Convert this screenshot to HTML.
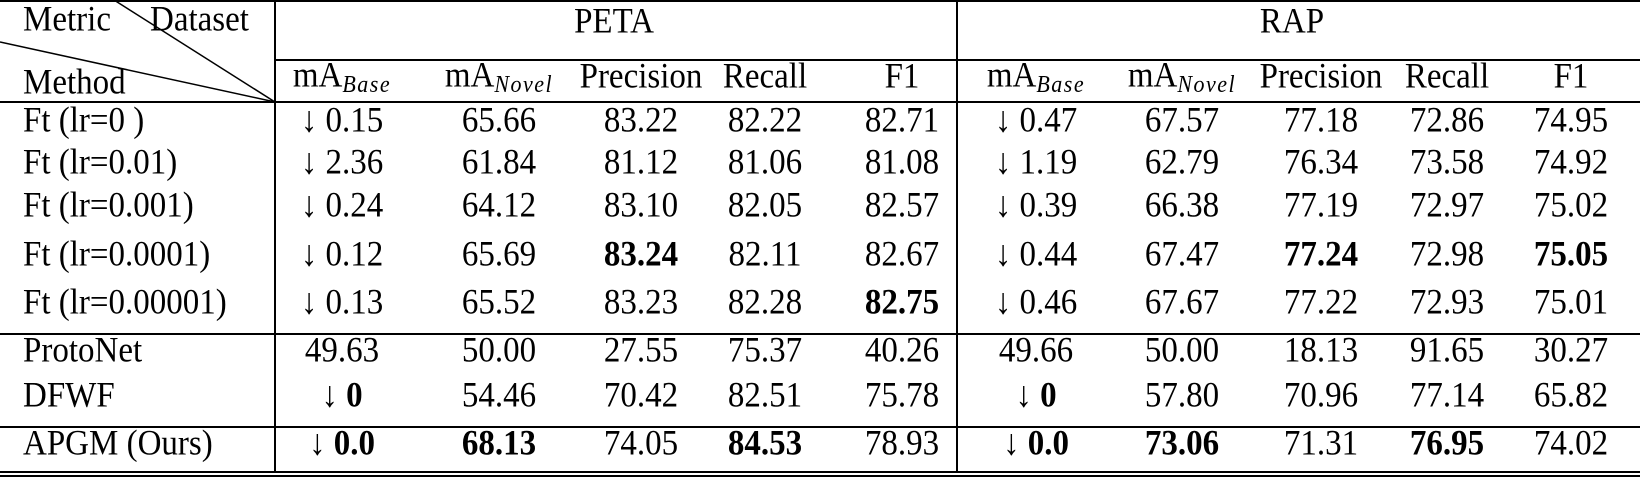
<!DOCTYPE html>
<html><head><meta charset="utf-8"><style>
body{margin:0;width:1640px;height:478px;background:#fff;position:relative;overflow:hidden;font-family:"Liberation Serif",serif;font-size:33px;color:#000}
.h{position:absolute;height:2px;background:#000}
.v{position:absolute;width:2px;background:#000}
.t{position:absolute;white-space:nowrap;transform:translate(-50%,-50%) scaleY(1.1);line-height:1}
.l{position:absolute;white-space:nowrap;transform:translateY(-50%) scaleY(1.1);line-height:1}
i{font-size:22px;vertical-align:-5px;letter-spacing:1.5px}
b{font-weight:bold}
</style></head><body>
<div class="h" style="left:0;top:0;width:1640px"></div>
<div class="h" style="left:274px;top:59px;width:1366px"></div>
<div class="h" style="left:0;top:101px;width:1640px"></div>
<div class="h" style="left:0;top:333px;width:1640px"></div>
<div class="h" style="left:0;top:426px;width:1640px"></div>
<div class="h" style="left:0;top:471px;width:1640px"></div>
<div class="h" style="left:0;top:475px;width:1640px"></div>
<div class="v" style="left:274px;top:0;height:472px"></div>
<div class="v" style="left:956px;top:0;height:472px"></div>
<svg style="position:absolute;left:0;top:0" width="280" height="110"><line x1="0" y1="42" x2="275" y2="102" stroke="#000" stroke-width="1.5"/><line x1="114" y1="0" x2="275" y2="102" stroke="#000" stroke-width="1.5"/></svg>
<div class="l" style="left:23px;top:20px">Metric</div>
<div class="l" style="left:150px;top:20px">Dataset</div>
<div class="l" style="left:23px;top:83px">Method</div>
<div class="t" style="left:614px;top:22px">PETA</div>
<div class="t" style="left:1292px;top:22px">RAP</div>
<div class="t" style="left:342px;top:77px">mA<i>Base</i></div>
<div class="t" style="left:499px;top:77px">mA<i>Novel</i></div>
<div class="t" style="left:641px;top:77px">Precision</div>
<div class="t" style="left:765px;top:77px">Recall</div>
<div class="t" style="left:902px;top:77px">F1</div>
<div class="t" style="left:1036px;top:77px">mA<i>Base</i></div>
<div class="t" style="left:1182px;top:77px">mA<i>Novel</i></div>
<div class="t" style="left:1321px;top:77px">Precision</div>
<div class="t" style="left:1447px;top:77px">Recall</div>
<div class="t" style="left:1571px;top:77px">F1</div>
<div id="rows"></div>
<script>
var xs=[342,499,641,765,902,1036,1182,1321,1447,1571];
var R=[[121,"Ft (lr=0 )",["↓ 0.15","65.66","83.22","82.22","82.71","↓ 0.47","67.57","77.18","72.86","74.95"]],
[163,"Ft (lr=0.01)",["↓ 2.36","61.84","81.12","81.06","81.08","↓ 1.19","62.79","76.34","73.58","74.92"]],
[206,"Ft (lr=0.001)",["↓ 0.24","64.12","83.10","82.05","82.57","↓ 0.39","66.38","77.19","72.97","75.02"]],
[255,"Ft (lr=0.0001)",["↓ 0.12","65.69","<b>83.24</b>","82.11","82.67","↓ 0.44","67.47","<b>77.24</b>","72.98","<b>75.05</b>"]],
[303,"Ft (lr=0.00001)",["↓ 0.13","65.52","83.23","82.28","<b>82.75</b>","↓ 0.46","67.67","77.22","72.93","75.01"]],
[351,"ProtoNet",["49.63","50.00","27.55","75.37","40.26","49.66","50.00","18.13","91.65","30.27"]],
[396,"DFWF",["↓ <b>0</b>","54.46","70.42","82.51","75.78","↓ <b>0</b>","57.80","70.96","77.14","65.82"]],
[444,"APGM (Ours)",["↓ <b>0.0</b>","<b>68.13</b>","74.05","<b>84.53</b>","78.93","↓ <b>0.0</b>","<b>73.06</b>","71.31","<b>76.95</b>","74.02"]]];
var h="";R.forEach(function(r){h+='<div class="l" style="left:23px;top:'+r[0]+'px">'+r[1]+'</div>';r[2].forEach(function(v,j){h+='<div class="t" style="left:'+xs[j]+'px;top:'+r[0]+'px">'+v+'</div>';});});
document.getElementById("rows").innerHTML=h;
</script>
</body></html>
